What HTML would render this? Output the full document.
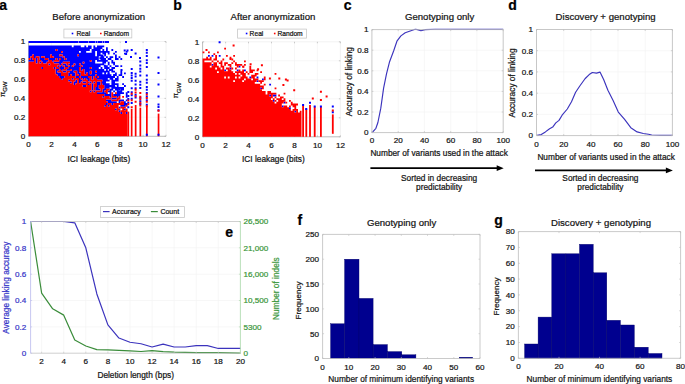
<!DOCTYPE html>
<html><head><meta charset="utf-8"><style>
html,body{margin:0;padding:0;background:#fff;width:685px;height:384px;overflow:hidden}
svg{display:block}
text{font-family:"Liberation Sans", sans-serif;stroke:currentColor;stroke-width:0.22px}
</style></head><body>
<svg width="685" height="384" viewBox="0 0 685 384">
<rect width="685" height="384" fill="#fff"/>
<line x1="51.5" y1="41.5" x2="51.5" y2="136.3" stroke="#f3f3f3" stroke-width="0.7"/>
<line x1="74.4" y1="41.5" x2="74.4" y2="136.3" stroke="#f3f3f3" stroke-width="0.7"/>
<line x1="97.3" y1="41.5" x2="97.3" y2="136.3" stroke="#f3f3f3" stroke-width="0.7"/>
<line x1="120.2" y1="41.5" x2="120.2" y2="136.3" stroke="#f3f3f3" stroke-width="0.7"/>
<line x1="143.1" y1="41.5" x2="143.1" y2="136.3" stroke="#f3f3f3" stroke-width="0.7"/>
<line x1="28.6" y1="117.3" x2="166" y2="117.3" stroke="#f3f3f3" stroke-width="0.7"/>
<line x1="28.6" y1="98.4" x2="166" y2="98.4" stroke="#f3f3f3" stroke-width="0.7"/>
<line x1="28.6" y1="79.4" x2="166" y2="79.4" stroke="#f3f3f3" stroke-width="0.7"/>
<line x1="28.6" y1="60.5" x2="166" y2="60.5" stroke="#f3f3f3" stroke-width="0.7"/>
<line x1="28.6" y1="136.3" x2="166" y2="136.3" stroke="#ababab" stroke-width="0.8"/>
<line x1="28.6" y1="41.5" x2="166" y2="41.5" stroke="#efefef" stroke-width="0.8"/>
<line x1="28.6" y1="41.5" x2="28.6" y2="136.3" stroke="#ababab" stroke-width="0.8"/>
<line x1="166" y1="41.5" x2="166" y2="136.3" stroke="#efefef" stroke-width="0.8"/>
<line x1="28.6" y1="136.3" x2="28.6" y2="134.8" stroke="#ababab" stroke-width="0.6"/>
<line x1="28.6" y1="41.5" x2="28.6" y2="43" stroke="#ababab" stroke-width="0.6"/>
<line x1="51.5" y1="136.3" x2="51.5" y2="134.8" stroke="#ababab" stroke-width="0.6"/>
<line x1="51.5" y1="41.5" x2="51.5" y2="43" stroke="#ababab" stroke-width="0.6"/>
<line x1="74.4" y1="136.3" x2="74.4" y2="134.8" stroke="#ababab" stroke-width="0.6"/>
<line x1="74.4" y1="41.5" x2="74.4" y2="43" stroke="#ababab" stroke-width="0.6"/>
<line x1="97.3" y1="136.3" x2="97.3" y2="134.8" stroke="#ababab" stroke-width="0.6"/>
<line x1="97.3" y1="41.5" x2="97.3" y2="43" stroke="#ababab" stroke-width="0.6"/>
<line x1="120.2" y1="136.3" x2="120.2" y2="134.8" stroke="#ababab" stroke-width="0.6"/>
<line x1="120.2" y1="41.5" x2="120.2" y2="43" stroke="#ababab" stroke-width="0.6"/>
<line x1="143.1" y1="136.3" x2="143.1" y2="134.8" stroke="#ababab" stroke-width="0.6"/>
<line x1="143.1" y1="41.5" x2="143.1" y2="43" stroke="#ababab" stroke-width="0.6"/>
<line x1="166" y1="136.3" x2="166" y2="134.8" stroke="#ababab" stroke-width="0.6"/>
<line x1="166" y1="41.5" x2="166" y2="43" stroke="#ababab" stroke-width="0.6"/>
<line x1="28.6" y1="136.3" x2="30.1" y2="136.3" stroke="#ababab" stroke-width="0.6"/>
<line x1="166" y1="136.3" x2="164.5" y2="136.3" stroke="#ababab" stroke-width="0.6"/>
<line x1="28.6" y1="117.3" x2="30.1" y2="117.3" stroke="#ababab" stroke-width="0.6"/>
<line x1="166" y1="117.3" x2="164.5" y2="117.3" stroke="#ababab" stroke-width="0.6"/>
<line x1="28.6" y1="98.4" x2="30.1" y2="98.4" stroke="#ababab" stroke-width="0.6"/>
<line x1="166" y1="98.4" x2="164.5" y2="98.4" stroke="#ababab" stroke-width="0.6"/>
<line x1="28.6" y1="79.4" x2="30.1" y2="79.4" stroke="#ababab" stroke-width="0.6"/>
<line x1="166" y1="79.4" x2="164.5" y2="79.4" stroke="#ababab" stroke-width="0.6"/>
<line x1="28.6" y1="60.5" x2="30.1" y2="60.5" stroke="#ababab" stroke-width="0.6"/>
<line x1="166" y1="60.5" x2="164.5" y2="60.5" stroke="#ababab" stroke-width="0.6"/>
<line x1="28.6" y1="41.5" x2="30.1" y2="41.5" stroke="#ababab" stroke-width="0.6"/>
<line x1="166" y1="41.5" x2="164.5" y2="41.5" stroke="#ababab" stroke-width="0.6"/>
<path d="M28.6 45.5H71.8V47.3H28.6zM73.6 45.5H80.8V47.3H73.6zM84.4 45.5H86.2V47.3H84.4zM88.0 45.5H91.6V47.3H88.0zM93.4 45.5H95.2V47.3H93.4zM97.0 45.5H104.2V47.3H97.0zM28.6 47.3H91.6V49.1H28.6zM93.4 47.3H102.4V49.1H93.4zM106.0 47.3H107.8V49.1H106.0zM28.6 49.1H55.6V50.9H28.6zM57.4 49.1H89.8V50.9H57.4zM91.6 49.1H100.6V50.9H91.6zM102.4 49.1H104.2V50.9H102.4zM106.0 49.1H107.8V50.9H106.0zM111.4 49.1H113.2V50.9H111.4zM28.6 50.9H61.0V52.7H28.6zM62.8 50.9H79.0V52.7H62.8zM80.8 50.9H86.2V52.7H80.8zM91.6 50.9H95.2V52.7H91.6zM97.0 50.9H109.6V52.7H97.0zM115.0 50.9H116.8V52.7H115.0zM125.8 50.9H127.6V52.7H125.8zM28.6 52.7H95.2V54.5H28.6zM97.0 52.7H100.6V54.5H97.0zM102.4 52.7H106.0V54.5H102.4zM107.8 52.7H109.6V54.5H107.8zM113.2 52.7H115.0V54.5H113.2zM124.0 52.7H125.8V54.5H124.0zM28.6 54.5H32.2V56.3H28.6zM34.0 54.5H50.2V56.3H34.0zM52.0 54.5H59.2V56.3H52.0zM62.8 54.5H77.2V56.3H62.8zM79.0 54.5H95.2V56.3H79.0zM97.0 54.5H102.4V56.3H97.0zM104.2 54.5H106.0V56.3H104.2zM115.0 54.5H116.8V56.3H115.0zM28.6 56.3H30.4V58.1H28.6zM34.0 56.3H35.8V58.1H34.0zM39.4 56.3H41.2V58.1H39.4zM44.8 56.3H50.2V58.1H44.8zM53.8 56.3H62.8V58.1H53.8zM64.6 56.3H98.8V58.1H64.6zM100.6 56.3H104.2V58.1H100.6zM106.0 56.3H107.8V58.1H106.0zM109.6 56.3H113.2V58.1H109.6zM115.0 56.3H116.8V58.1H115.0zM118.6 56.3H120.4V58.1H118.6zM30.4 58.1H32.2V59.9H30.4zM35.8 58.1H37.6V59.9H35.8zM39.4 58.1H44.8V59.9H39.4zM48.4 58.1H55.6V59.9H48.4zM57.4 58.1H59.2V59.9H57.4zM61.0 58.1H64.6V59.9H61.0zM66.4 58.1H98.8V59.9H66.4zM100.6 58.1H106.0V59.9H100.6zM107.8 58.1H111.4V59.9H107.8zM115.0 58.1H118.6V59.9H115.0zM120.4 58.1H122.2V59.9H120.4zM28.6 59.9H34.0V61.7H28.6zM35.8 59.9H37.6V61.7H35.8zM41.2 59.9H48.4V61.7H41.2zM52.0 59.9H53.8V61.7H52.0zM59.2 59.9H89.8V61.7H59.2zM91.6 59.9H95.2V61.7H91.6zM97.0 59.9H107.8V61.7H97.0zM111.4 59.9H113.2V61.7H111.4zM127.6 59.9H127.6V61.7H127.6zM35.8 61.7H37.6V63.5H35.8zM39.4 61.7H41.2V63.5H39.4zM43.0 61.7H46.6V63.5H43.0zM53.8 61.7H62.8V63.5H53.8zM70.0 61.7H82.6V63.5H70.0zM84.4 61.7H95.2V63.5H84.4zM102.4 61.7H106.0V63.5H102.4zM107.8 61.7H109.6V63.5H107.8zM111.4 61.7H115.0V63.5H111.4zM48.4 63.5H50.2V65.3H48.4zM59.2 63.5H61.0V65.3H59.2zM62.8 63.5H66.4V65.3H62.8zM68.2 63.5H73.6V65.3H68.2zM75.4 63.5H79.0V65.3H75.4zM80.8 63.5H104.2V65.3H80.8zM107.8 63.5H109.6V65.3H107.8zM113.2 63.5H115.0V65.3H113.2zM57.4 65.3H59.2V67.1H57.4zM61.0 65.3H62.8V67.1H61.0zM64.6 65.3H68.2V67.1H64.6zM70.0 65.3H71.8V67.1H70.0zM73.6 65.3H80.8V67.1H73.6zM82.6 65.3H100.6V67.1H82.6zM104.2 65.3H107.8V67.1H104.2zM109.6 65.3H111.4V67.1H109.6zM115.0 65.3H118.6V67.1H115.0zM120.4 65.3H122.2V67.1H120.4zM41.2 67.1H43.0V68.9H41.2zM53.8 67.1H55.6V68.9H53.8zM59.2 67.1H64.6V68.9H59.2zM68.2 67.1H79.0V68.9H68.2zM80.8 67.1H89.8V68.9H80.8zM91.6 67.1H98.8V68.9H91.6zM100.6 67.1H102.4V68.9H100.6zM104.2 67.1H109.6V68.9H104.2zM111.4 67.1H115.0V68.9H111.4zM55.6 68.9H59.2V70.7H55.6zM61.0 68.9H62.8V70.7H61.0zM66.4 68.9H70.0V70.7H66.4zM71.8 68.9H79.0V70.7H71.8zM80.8 68.9H82.6V70.7H80.8zM84.4 68.9H104.2V70.7H84.4zM106.0 68.9H107.8V70.7H106.0zM109.6 68.9H113.2V70.7H109.6zM55.6 70.7H57.4V72.5H55.6zM62.8 70.7H66.4V72.5H62.8zM70.0 70.7H73.6V72.5H70.0zM77.2 70.7H79.0V72.5H77.2zM84.4 70.7H89.8V72.5H84.4zM91.6 70.7H95.2V72.5H91.6zM97.0 70.7H109.6V72.5H97.0zM111.4 70.7H115.0V72.5H111.4zM120.4 70.7H122.2V72.5H120.4zM55.6 72.5H61.0V74.3H55.6zM68.2 72.5H75.4V74.3H68.2zM77.2 72.5H80.8V74.3H77.2zM84.4 72.5H86.2V74.3H84.4zM88.0 72.5H89.8V74.3H88.0zM91.6 72.5H102.4V74.3H91.6zM104.2 72.5H106.0V74.3H104.2zM107.8 72.5H109.6V74.3H107.8zM115.0 72.5H116.8V74.3H115.0zM120.4 72.5H122.2V74.3H120.4zM124.0 72.5H125.8V74.3H124.0zM57.4 74.3H61.0V76.1H57.4zM68.2 74.3H70.0V76.1H68.2zM71.8 74.3H75.4V76.1H71.8zM79.0 74.3H80.8V76.1H79.0zM88.0 74.3H95.2V76.1H88.0zM97.0 74.3H111.4V76.1H97.0zM113.2 74.3H116.8V76.1H113.2zM118.6 74.3H122.2V76.1H118.6zM59.2 76.1H64.6V77.9H59.2zM75.4 76.1H79.0V77.9H75.4zM80.8 76.1H88.0V77.9H80.8zM91.6 76.1H93.4V77.9H91.6zM95.2 76.1H97.0V77.9H95.2zM98.8 76.1H115.0V77.9H98.8zM116.8 76.1H118.6V77.9H116.8zM122.2 76.1H124.0V77.9H122.2zM61.0 77.9H62.8V79.7H61.0zM71.8 77.9H73.6V79.7H71.8zM79.0 77.9H80.8V79.7H79.0zM82.6 77.9H84.4V79.7H82.6zM86.2 77.9H89.8V79.7H86.2zM91.6 77.9H93.4V79.7H91.6zM97.0 77.9H107.8V79.7H97.0zM109.6 77.9H113.2V79.7H109.6zM115.0 77.9H118.6V79.7H115.0zM68.2 79.7H70.0V81.5H68.2zM75.4 79.7H77.2V81.5H75.4zM79.0 79.7H82.6V81.5H79.0zM88.0 79.7H89.8V81.5H88.0zM102.4 79.7H109.6V81.5H102.4zM111.4 79.7H118.6V81.5H111.4zM127.6 79.7H127.6V81.5H127.6zM70.0 81.5H71.8V83.3H70.0zM73.6 81.5H77.2V83.3H73.6zM79.0 81.5H80.8V83.3H79.0zM82.6 81.5H86.2V83.3H82.6zM89.8 81.5H91.6V83.3H89.8zM93.4 81.5H95.2V83.3H93.4zM97.0 81.5H100.6V83.3H97.0zM102.4 81.5H106.0V83.3H102.4zM111.4 81.5H115.0V83.3H111.4zM73.6 83.3H75.4V85.1H73.6zM88.0 83.3H89.8V85.1H88.0zM91.6 83.3H93.4V85.1H91.6zM97.0 83.3H100.6V85.1H97.0zM102.4 83.3H109.6V85.1H102.4zM111.4 83.3H118.6V85.1H111.4zM122.2 83.3H124.0V85.1H122.2zM82.6 85.1H86.2V86.9H82.6zM91.6 85.1H93.4V86.9H91.6zM97.0 85.1H98.8V86.9H97.0zM104.2 85.1H115.0V86.9H104.2zM116.8 85.1H118.6V86.9H116.8zM124.0 85.1H125.8V86.9H124.0zM91.6 86.9H93.4V88.7H91.6zM95.2 86.9H98.8V88.7H95.2zM104.2 86.9H109.6V88.7H104.2zM111.4 86.9H124.0V88.7H111.4zM91.6 88.7H93.4V90.5H91.6zM95.2 88.7H100.6V90.5H95.2zM102.4 88.7H106.0V90.5H102.4zM109.6 88.7H113.2V90.5H109.6zM115.0 88.7H118.6V90.5H115.0zM120.4 88.7H124.0V90.5H120.4zM89.8 90.5H91.6V92.3H89.8zM93.4 90.5H95.2V92.3H93.4zM102.4 90.5H104.2V92.3H102.4zM107.8 90.5H111.4V92.3H107.8zM113.2 90.5H115.0V92.3H113.2zM116.8 90.5H122.2V92.3H116.8zM97.0 92.3H106.0V94.1H97.0zM109.6 92.3H111.4V94.1H109.6zM116.8 92.3H124.0V94.1H116.8zM125.8 92.3H127.6V94.1H125.8zM104.2 94.1H111.4V95.9H104.2zM113.2 94.1H120.4V95.9H113.2zM125.8 94.1H127.6V95.9H125.8zM102.4 95.9H104.2V97.7H102.4zM109.6 95.9H111.4V97.7H109.6zM116.8 95.9H118.6V97.7H116.8zM125.8 95.9H127.6V97.7H125.8zM111.4 97.7H116.8V99.5H111.4zM106.0 99.5H111.4V101.3H106.0zM118.6 99.5H124.0V101.3H118.6zM125.8 99.5H127.6V101.3H125.8zM107.8 101.3H116.8V103.1H107.8zM118.6 101.3H120.4V103.1H118.6zM124.0 101.3H125.8V103.1H124.0zM106.0 103.1H107.8V104.9H106.0zM111.4 103.1H113.2V104.9H111.4zM124.0 103.1H127.6V104.9H124.0zM104.2 104.9H106.0V106.7H104.2zM107.8 104.9H109.6V106.7H107.8zM120.4 104.9H125.8V106.7H120.4zM118.6 106.7H120.4V108.5H118.6zM127.6 106.7H127.6V108.5H127.6zM115.0 108.5H116.8V110.3H115.0zM124.0 108.5H125.8V110.3H124.0zM118.6 110.3H120.4V112.1H118.6zM127.6 110.3H127.6V112.1H127.6zM120.4 112.1H122.2V113.9H120.4zM125.8 112.1H127.6V113.9H125.8zM127.6 113.9H127.6V115.7H127.6zM127.6 117.5H127.6V119.3H127.6zM127.6 119.3H127.6V121.1H127.6zM127.6 121.1H127.6V122.9H127.6zM127.6 124.7H127.6V126.5H127.6zM127.6 126.5H127.6V128.3H127.6zM127.6 128.3H127.6V130.1H127.6zM127.6 130.1H127.6V131.9H127.6zM127.6 131.9H127.6V133.7H127.6zM127.6 133.7H127.6V135.5H127.6z" fill="#0000ff"/>
<path d="M55.6 49.1H57.4V50.9H55.6zM61.0 50.9H62.8V52.7H61.0zM32.2 54.5H34.0V56.3H32.2zM50.2 54.5H52.0V56.3H50.2zM59.2 54.5H62.8V56.3H59.2zM77.2 54.5H79.0V56.3H77.2zM30.4 56.3H34.0V58.1H30.4zM35.8 56.3H39.4V58.1H35.8zM41.2 56.3H44.8V58.1H41.2zM50.2 56.3H53.8V58.1H50.2zM62.8 56.3H64.6V58.1H62.8zM28.6 58.1H30.4V59.9H28.6zM32.2 58.1H35.8V59.9H32.2zM37.6 58.1H39.4V59.9H37.6zM44.8 58.1H48.4V59.9H44.8zM55.6 58.1H57.4V59.9H55.6zM59.2 58.1H61.0V59.9H59.2zM64.6 58.1H66.4V59.9H64.6zM34.0 59.9H35.8V61.7H34.0zM37.6 59.9H41.2V61.7H37.6zM48.4 59.9H52.0V61.7H48.4zM53.8 59.9H59.2V61.7H53.8zM89.8 59.9H91.6V61.7H89.8zM28.6 61.7H35.8V63.5H28.6zM37.6 61.7H39.4V63.5H37.6zM41.2 61.7H43.0V63.5H41.2zM46.6 61.7H53.8V63.5H46.6zM62.8 61.7H70.0V63.5H62.8zM82.6 61.7H84.4V63.5H82.6zM28.6 63.5H48.4V65.3H28.6zM50.2 63.5H59.2V65.3H50.2zM61.0 63.5H62.8V65.3H61.0zM66.4 63.5H68.2V65.3H66.4zM73.6 63.5H75.4V65.3H73.6zM79.0 63.5H80.8V65.3H79.0zM28.6 65.3H57.4V67.1H28.6zM59.2 65.3H61.0V67.1H59.2zM62.8 65.3H64.6V67.1H62.8zM68.2 65.3H70.0V67.1H68.2zM71.8 65.3H73.6V67.1H71.8zM80.8 65.3H82.6V67.1H80.8zM28.6 67.1H41.2V68.9H28.6zM43.0 67.1H53.8V68.9H43.0zM55.6 67.1H59.2V68.9H55.6zM64.6 67.1H68.2V68.9H64.6zM79.0 67.1H80.8V68.9H79.0zM89.8 67.1H91.6V68.9H89.8zM28.6 68.9H55.6V70.7H28.6zM59.2 68.9H61.0V70.7H59.2zM62.8 68.9H66.4V70.7H62.8zM70.0 68.9H71.8V70.7H70.0zM79.0 68.9H80.8V70.7H79.0zM82.6 68.9H84.4V70.7H82.6zM28.6 70.7H55.6V72.5H28.6zM57.4 70.7H62.8V72.5H57.4zM66.4 70.7H70.0V72.5H66.4zM73.6 70.7H77.2V72.5H73.6zM79.0 70.7H84.4V72.5H79.0zM89.8 70.7H91.6V72.5H89.8zM95.2 70.7H97.0V72.5H95.2zM28.6 72.5H55.6V74.3H28.6zM61.0 72.5H68.2V74.3H61.0zM75.4 72.5H77.2V74.3H75.4zM80.8 72.5H84.4V74.3H80.8zM86.2 72.5H88.0V74.3H86.2zM89.8 72.5H91.6V74.3H89.8zM28.6 74.3H57.4V76.1H28.6zM61.0 74.3H68.2V76.1H61.0zM70.0 74.3H71.8V76.1H70.0zM75.4 74.3H79.0V76.1H75.4zM80.8 74.3H88.0V76.1H80.8zM95.2 74.3H97.0V76.1H95.2zM28.6 76.1H59.2V77.9H28.6zM64.6 76.1H75.4V77.9H64.6zM79.0 76.1H80.8V77.9H79.0zM88.0 76.1H91.6V77.9H88.0zM93.4 76.1H95.2V77.9H93.4zM97.0 76.1H98.8V77.9H97.0zM28.6 77.9H61.0V79.7H28.6zM62.8 77.9H71.8V79.7H62.8zM73.6 77.9H79.0V79.7H73.6zM80.8 77.9H82.6V79.7H80.8zM84.4 77.9H86.2V79.7H84.4zM89.8 77.9H91.6V79.7H89.8zM93.4 77.9H97.0V79.7H93.4zM28.6 79.7H68.2V81.5H28.6zM70.0 79.7H75.4V81.5H70.0zM77.2 79.7H79.0V81.5H77.2zM82.6 79.7H88.0V81.5H82.6zM89.8 79.7H102.4V81.5H89.8zM28.6 81.5H70.0V83.3H28.6zM71.8 81.5H73.6V83.3H71.8zM77.2 81.5H79.0V83.3H77.2zM80.8 81.5H82.6V83.3H80.8zM86.2 81.5H89.8V83.3H86.2zM91.6 81.5H93.4V83.3H91.6zM95.2 81.5H97.0V83.3H95.2zM100.6 81.5H102.4V83.3H100.6zM28.6 83.3H73.6V85.1H28.6zM75.4 83.3H88.0V85.1H75.4zM89.8 83.3H91.6V85.1H89.8zM93.4 83.3H97.0V85.1H93.4zM100.6 83.3H102.4V85.1H100.6zM28.6 85.1H82.6V86.9H28.6zM86.2 85.1H91.6V86.9H86.2zM93.4 85.1H97.0V86.9H93.4zM98.8 85.1H104.2V86.9H98.8zM28.6 86.9H91.6V88.7H28.6zM93.4 86.9H95.2V88.7H93.4zM98.8 86.9H104.2V88.7H98.8zM28.6 88.7H91.6V90.5H28.6zM93.4 88.7H95.2V90.5H93.4zM100.6 88.7H102.4V90.5H100.6zM106.0 88.7H109.6V90.5H106.0zM28.6 90.5H89.8V92.3H28.6zM91.6 90.5H93.4V92.3H91.6zM95.2 90.5H102.4V92.3H95.2zM104.2 90.5H107.8V92.3H104.2zM28.6 92.3H97.0V94.1H28.6zM106.0 92.3H107.8V94.1H106.0zM111.4 92.3H113.2V94.1H111.4zM115.0 92.3H116.8V94.1H115.0zM28.6 94.1H104.2V95.9H28.6zM111.4 94.1H113.2V95.9H111.4zM28.6 95.9H102.4V97.7H28.6zM104.2 95.9H109.6V97.7H104.2zM111.4 95.9H116.8V97.7H111.4zM118.6 95.9H120.4V97.7H118.6zM122.2 95.9H124.0V97.7H122.2zM28.6 97.7H111.4V99.5H28.6zM116.8 97.7H120.4V99.5H116.8zM28.6 99.5H106.0V101.3H28.6zM111.4 99.5H118.6V101.3H111.4zM28.6 101.3H107.8V103.1H28.6zM120.4 101.3H124.0V103.1H120.4zM28.6 103.1H106.0V104.9H28.6zM107.8 103.1H111.4V104.9H107.8zM113.2 103.1H124.0V104.9H113.2zM28.6 104.9H104.2V106.7H28.6zM106.0 104.9H107.8V106.7H106.0zM109.6 104.9H118.6V106.7H109.6zM125.8 104.9H127.6V106.7H125.8zM28.6 106.7H118.6V108.5H28.6zM120.4 106.7H125.8V108.5H120.4zM28.6 108.5H115.0V110.3H28.6zM116.8 108.5H120.4V110.3H116.8zM122.2 108.5H124.0V110.3H122.2zM125.8 108.5H127.6V110.3H125.8zM28.6 110.3H118.6V112.1H28.6zM120.4 110.3H127.6V112.1H120.4zM28.6 112.1H120.4V113.9H28.6zM122.2 112.1H125.8V113.9H122.2zM28.6 113.9H127.6V115.7H28.6zM28.6 115.7H127.6V117.5H28.6zM28.6 117.5H127.6V119.3H28.6zM28.6 119.3H127.6V121.1H28.6zM28.6 121.1H127.6V122.9H28.6zM28.6 122.9H127.6V124.7H28.6zM28.6 124.7H127.6V126.5H28.6zM28.6 126.5H127.6V128.3H28.6zM28.6 128.3H127.6V130.1H28.6zM28.6 130.1H127.6V131.9H28.6zM28.6 131.9H127.6V133.7H28.6zM28.6 133.7H127.6V135.5H28.6zM28.6 135.5H127.6V136.3H28.6z" fill="#ff0000"/>
<rect x="28.6" y="41" width="49.4" height="2" fill="#0000ff"/>
<rect x="127.5" y="111.6" width="1.7" height="24.7" fill="#ff0000"/>
<rect x="130.8" y="109" width="1.7" height="27.3" fill="#ff0000"/>
<rect x="134.8" y="105" width="1.7" height="31.3" fill="#ff0000"/>
<rect x="139.5" y="107.7" width="1.7" height="28.6" fill="#ff0000"/>
<rect x="146" y="106.4" width="1.7" height="29.9" fill="#ff0000"/>
<rect x="157.7" y="113.6" width="1.7" height="22.7" fill="#ff0000"/>
<path d="M78.5 41h2.0v2.0h-2.0zM80.5 41h2.0v2.0h-2.0zM82.5 41h2.0v2.0h-2.0zM84.5 41h2.0v2.0h-2.0zM86.5 41h2.0v2.0h-2.0zM89 41h2.0v2.0h-2.0zM91 41h2.0v2.0h-2.0zM93 41h2.0v2.0h-2.0zM95.5 41h2.0v2.0h-2.0zM98 41h2.0v2.0h-2.0zM100 41h2.0v2.0h-2.0zM102.5 41h2.0v2.0h-2.0zM105 41h2.0v2.0h-2.0zM107 41h2.0v2.0h-2.0zM125 41h2.0v2.0h-2.0zM120.5 68.9h2.0v2.0h-2.0zM101.8 81.5h2.0v2.0h-2.0zM107.5 73h2.0v2.0h-2.0zM108.9 69.1h2.0v2.0h-2.0zM125.1 52.9h2.0v2.0h-2.0zM113.3 73.9h2.0v2.0h-2.0zM113.5 86.3h2.0v2.0h-2.0zM110 85.3h2.0v2.0h-2.0zM117.6 87.6h2.0v2.0h-2.0zM101.4 55.1h2.0v2.0h-2.0zM106.8 85h2.0v2.0h-2.0zM99.4 57.2h2.0v2.0h-2.0zM118.3 88.6h2.0v2.0h-2.0zM103.8 64.8h2.0v2.0h-2.0zM123.7 49.4h2.0v2.0h-2.0zM126.5 49.4h2.0v2.0h-2.0zM130.7 49h2.0v2.0h-2.0zM134.6 52.5h2.0v2.0h-2.0zM130 56h2.0v2.0h-2.0zM139 57h2.0v2.0h-2.0zM127.3 91h2.0v2.0h-2.0zM127.3 94.9h2.0v2.0h-2.0zM127.3 97.9h2.0v2.0h-2.0zM127.3 101.8h2.0v2.0h-2.0zM127.3 106.2h2.0v2.0h-2.0zM130.7 68h2.0v2.0h-2.0zM130.7 71.9h2.0v2.0h-2.0zM130.7 74.5h2.0v2.0h-2.0zM130.7 77h2.0v2.0h-2.0zM130.7 79.8h2.0v2.0h-2.0zM130.7 87.2h2.0v2.0h-2.0zM130.7 91.2h2.0v2.0h-2.0zM130.7 94.3h2.0v2.0h-2.0zM130.7 97.7h2.0v2.0h-2.0zM130.7 102.1h2.0v2.0h-2.0zM134.6 72.8h2.0v2.0h-2.0zM134.6 75.4h2.0v2.0h-2.0zM134.6 79.7h2.0v2.0h-2.0zM134.6 83.5h2.0v2.0h-2.0zM134.6 87.3h2.0v2.0h-2.0zM134.6 93.8h2.0v2.0h-2.0zM134.6 96.4h2.0v2.0h-2.0zM139.3 60.5h2.0v2.0h-2.0zM139.3 64.6h2.0v2.0h-2.0zM139.3 67.8h2.0v2.0h-2.0zM139.3 70.5h2.0v2.0h-2.0zM139.3 74.6h2.0v2.0h-2.0zM139.3 80.8h2.0v2.0h-2.0zM139.3 83.8h2.0v2.0h-2.0zM139.3 87h2.0v2.0h-2.0zM139.3 96.8h2.0v2.0h-2.0zM139.3 100.3h2.0v2.0h-2.0zM139.3 103h2.0v2.0h-2.0zM145.8 49h2.0v2.0h-2.0zM145.8 51.7h2.0v2.0h-2.0zM145.8 55h2.0v2.0h-2.0zM145.8 59.3h2.0v2.0h-2.0zM145.8 62h2.0v2.0h-2.0zM145.8 66h2.0v2.0h-2.0zM145.8 74.4h2.0v2.0h-2.0zM145.8 78.8h2.0v2.0h-2.0zM145.8 81.8h2.0v2.0h-2.0zM145.8 86h2.0v2.0h-2.0zM145.8 88.7h2.0v2.0h-2.0zM145.8 92.1h2.0v2.0h-2.0zM145.8 95.5h2.0v2.0h-2.0zM145.8 99.3h2.0v2.0h-2.0zM145.8 103.8h2.0v2.0h-2.0zM145.8 133.8h2.0v2.0h-2.0zM157.5 56.5h2.0v2.0h-2.0zM157.5 72h2.0v2.0h-2.0zM157.5 83.5h2.0v2.0h-2.0zM157.5 95.6h2.0v2.0h-2.0zM157.5 103.4h2.0v2.0h-2.0zM157.5 106h2.0v2.0h-2.0zM157.5 109.3h2.0v2.0h-2.0zM157.5 133.8h2.0v2.0h-2.0z" fill="#0000ff"/>
<path d="M127.3 99.4h2.0v2.0h-2.0zM127.3 103.3h2.0v2.0h-2.0zM130.7 92.7h2.0v2.0h-2.0zM130.7 99.2h2.0v2.0h-2.0zM130.7 106.2h2.0v2.0h-2.0zM134.6 88.8h2.0v2.0h-2.0zM134.6 91.5h2.0v2.0h-2.0zM134.6 95.3h2.0v2.0h-2.0zM134.6 100.7h2.0v2.0h-2.0zM139.3 91.9h2.0v2.0h-2.0zM139.3 95.8h2.0v2.0h-2.0zM139.3 98.3h2.0v2.0h-2.0zM139.3 101.8h2.0v2.0h-2.0zM139.3 104.5h2.0v2.0h-2.0zM145.8 93.6h2.0v2.0h-2.0zM145.8 97h2.0v2.0h-2.0zM145.8 100.8h2.0v2.0h-2.0zM145.8 105.3h2.0v2.0h-2.0zM157.5 109.8h2.0v2.0h-2.0z" fill="#ff0000"/>
<text x="28.6" y="147" font-size="8.1" text-anchor="middle" fill="#141414" color="#141414">0</text>
<text x="51.5" y="147" font-size="8.1" text-anchor="middle" fill="#141414" color="#141414">2</text>
<text x="74.4" y="147" font-size="8.1" text-anchor="middle" fill="#141414" color="#141414">4</text>
<text x="97.3" y="147" font-size="8.1" text-anchor="middle" fill="#141414" color="#141414">6</text>
<text x="120.2" y="147" font-size="8.1" text-anchor="middle" fill="#141414" color="#141414">8</text>
<text x="143.1" y="147" font-size="8.1" text-anchor="middle" fill="#141414" color="#141414">10</text>
<text x="166" y="147" font-size="8.1" text-anchor="middle" fill="#141414" color="#141414">12</text>
<text x="25.2" y="139.1" font-size="8.1" text-anchor="end" fill="#141414" color="#141414">0</text>
<text x="25.2" y="120.1" font-size="8.1" text-anchor="end" fill="#141414" color="#141414">0.2</text>
<text x="25.2" y="101.2" font-size="8.1" text-anchor="end" fill="#141414" color="#141414">0.4</text>
<text x="25.2" y="82.2" font-size="8.1" text-anchor="end" fill="#141414" color="#141414">0.6</text>
<text x="25.2" y="63.3" font-size="8.1" text-anchor="end" fill="#141414" color="#141414">0.8</text>
<text x="25.2" y="44.3" font-size="8.1" text-anchor="end" fill="#141414" color="#141414">1</text>
<line x1="225.6" y1="41.8" x2="225.6" y2="136.8" stroke="#f3f3f3" stroke-width="0.7"/>
<line x1="248.5" y1="41.8" x2="248.5" y2="136.8" stroke="#f3f3f3" stroke-width="0.7"/>
<line x1="271.5" y1="41.8" x2="271.5" y2="136.8" stroke="#f3f3f3" stroke-width="0.7"/>
<line x1="294.5" y1="41.8" x2="294.5" y2="136.8" stroke="#f3f3f3" stroke-width="0.7"/>
<line x1="317.4" y1="41.8" x2="317.4" y2="136.8" stroke="#f3f3f3" stroke-width="0.7"/>
<line x1="202.6" y1="117.8" x2="340.4" y2="117.8" stroke="#f3f3f3" stroke-width="0.7"/>
<line x1="202.6" y1="98.8" x2="340.4" y2="98.8" stroke="#f3f3f3" stroke-width="0.7"/>
<line x1="202.6" y1="79.8" x2="340.4" y2="79.8" stroke="#f3f3f3" stroke-width="0.7"/>
<line x1="202.6" y1="60.8" x2="340.4" y2="60.8" stroke="#f3f3f3" stroke-width="0.7"/>
<line x1="202.6" y1="136.8" x2="340.4" y2="136.8" stroke="#ababab" stroke-width="0.8"/>
<line x1="202.6" y1="41.8" x2="340.4" y2="41.8" stroke="#efefef" stroke-width="0.8"/>
<line x1="202.6" y1="41.8" x2="202.6" y2="136.8" stroke="#ababab" stroke-width="0.8"/>
<line x1="340.4" y1="41.8" x2="340.4" y2="136.8" stroke="#efefef" stroke-width="0.8"/>
<line x1="202.6" y1="136.8" x2="202.6" y2="135.3" stroke="#ababab" stroke-width="0.6"/>
<line x1="202.6" y1="41.8" x2="202.6" y2="43.3" stroke="#ababab" stroke-width="0.6"/>
<line x1="225.6" y1="136.8" x2="225.6" y2="135.3" stroke="#ababab" stroke-width="0.6"/>
<line x1="225.6" y1="41.8" x2="225.6" y2="43.3" stroke="#ababab" stroke-width="0.6"/>
<line x1="248.5" y1="136.8" x2="248.5" y2="135.3" stroke="#ababab" stroke-width="0.6"/>
<line x1="248.5" y1="41.8" x2="248.5" y2="43.3" stroke="#ababab" stroke-width="0.6"/>
<line x1="271.5" y1="136.8" x2="271.5" y2="135.3" stroke="#ababab" stroke-width="0.6"/>
<line x1="271.5" y1="41.8" x2="271.5" y2="43.3" stroke="#ababab" stroke-width="0.6"/>
<line x1="294.5" y1="136.8" x2="294.5" y2="135.3" stroke="#ababab" stroke-width="0.6"/>
<line x1="294.5" y1="41.8" x2="294.5" y2="43.3" stroke="#ababab" stroke-width="0.6"/>
<line x1="317.4" y1="136.8" x2="317.4" y2="135.3" stroke="#ababab" stroke-width="0.6"/>
<line x1="317.4" y1="41.8" x2="317.4" y2="43.3" stroke="#ababab" stroke-width="0.6"/>
<line x1="340.4" y1="136.8" x2="340.4" y2="135.3" stroke="#ababab" stroke-width="0.6"/>
<line x1="340.4" y1="41.8" x2="340.4" y2="43.3" stroke="#ababab" stroke-width="0.6"/>
<line x1="202.6" y1="136.8" x2="204.1" y2="136.8" stroke="#ababab" stroke-width="0.6"/>
<line x1="340.4" y1="136.8" x2="338.9" y2="136.8" stroke="#ababab" stroke-width="0.6"/>
<line x1="202.6" y1="117.8" x2="204.1" y2="117.8" stroke="#ababab" stroke-width="0.6"/>
<line x1="340.4" y1="117.8" x2="338.9" y2="117.8" stroke="#ababab" stroke-width="0.6"/>
<line x1="202.6" y1="98.8" x2="204.1" y2="98.8" stroke="#ababab" stroke-width="0.6"/>
<line x1="340.4" y1="98.8" x2="338.9" y2="98.8" stroke="#ababab" stroke-width="0.6"/>
<line x1="202.6" y1="79.8" x2="204.1" y2="79.8" stroke="#ababab" stroke-width="0.6"/>
<line x1="340.4" y1="79.8" x2="338.9" y2="79.8" stroke="#ababab" stroke-width="0.6"/>
<line x1="202.6" y1="60.8" x2="204.1" y2="60.8" stroke="#ababab" stroke-width="0.6"/>
<line x1="340.4" y1="60.8" x2="338.9" y2="60.8" stroke="#ababab" stroke-width="0.6"/>
<line x1="202.6" y1="41.8" x2="204.1" y2="41.8" stroke="#ababab" stroke-width="0.6"/>
<line x1="340.4" y1="41.8" x2="338.9" y2="41.8" stroke="#ababab" stroke-width="0.6"/>
<path d="M208.0 55.0H209.8V56.8H208.0zM211.6 55.0H213.4V56.8H211.6zM218.8 55.0H220.6V56.8H218.8zM211.6 64.0H213.4V65.8H211.6zM238.6 65.8H240.4V67.6H238.6zM229.6 67.6H231.4V69.4H229.6zM224.2 69.4H226.0V71.2H224.2zM236.8 69.4H238.6V71.2H236.8zM244.0 69.4H245.8V71.2H244.0zM249.4 76.6H251.2V78.4H249.4zM256.6 76.6H258.4V78.4H256.6zM262.0 78.4H263.8V80.2H262.0zM256.6 80.2H258.4V82.0H256.6zM269.2 83.8H271.0V85.6H269.2zM260.2 87.4H262.0V89.2H260.2zM269.2 94.6H271.0V96.4H269.2zM272.8 94.6H276.4V96.4H272.8zM272.8 100.0H274.6V101.8H272.8zM283.6 101.8H285.4V103.6H283.6zM281.8 105.4H283.6V107.2H281.8zM289.0 107.2H290.8V109.0H289.0zM294.4 110.8H296.2V112.6H294.4z" fill="#0000ff"/>
<path d="M224.2 47.8H226.0V49.6H224.2zM202.6 51.4H204.4V53.2H202.6zM208.0 51.4H209.8V53.2H208.0zM217.0 51.4H218.8V53.2H217.0zM213.4 53.2H215.2V55.0H213.4zM215.2 55.0H217.0V56.8H215.2zM226.0 55.0H227.8V56.8H226.0zM233.2 55.0H235.0V56.8H233.2zM206.2 56.8H208.0V58.6H206.2zM209.8 56.8H211.6V58.6H209.8zM215.2 56.8H217.0V58.6H215.2zM229.6 56.8H231.4V58.6H229.6zM202.6 58.6H211.6V60.4H202.6zM213.4 58.6H217.0V60.4H213.4zM222.4 58.6H224.2V60.4H222.4zM231.4 58.6H233.2V60.4H231.4zM202.6 60.4H204.4V62.2H202.6zM211.6 60.4H213.4V62.2H211.6zM217.0 60.4H218.8V62.2H217.0zM220.6 60.4H222.4V62.2H220.6zM233.2 60.4H235.0V62.2H233.2zM244.0 60.4H245.8V62.2H244.0zM202.6 62.2H211.6V64.0H202.6zM213.4 62.2H217.0V64.0H213.4zM218.8 62.2H222.4V64.0H218.8zM224.2 62.2H227.8V64.0H224.2zM231.4 62.2H233.2V64.0H231.4zM235.0 62.2H236.8V64.0H235.0zM202.6 64.0H211.6V65.8H202.6zM213.4 64.0H217.0V65.8H213.4zM220.6 64.0H222.4V65.8H220.6zM224.2 64.0H226.0V65.8H224.2zM227.8 64.0H231.4V65.8H227.8zM235.0 64.0H242.2V65.8H235.0zM244.0 64.0H245.8V65.8H244.0zM202.6 65.8H209.8V67.6H202.6zM211.6 65.8H218.8V67.6H211.6zM220.6 65.8H224.2V67.6H220.6zM229.6 65.8H231.4V67.6H229.6zM236.8 65.8H238.6V67.6H236.8zM242.2 65.8H244.0V67.6H242.2zM249.4 65.8H251.2V67.6H249.4zM202.6 67.6H215.2V69.4H202.6zM217.0 67.6H220.6V69.4H217.0zM222.4 67.6H224.2V69.4H222.4zM226.0 67.6H229.6V69.4H226.0zM231.4 67.6H233.2V69.4H231.4zM235.0 67.6H236.8V69.4H235.0zM249.4 67.6H251.2V69.4H249.4zM202.6 69.4H224.2V71.2H202.6zM227.8 69.4H231.4V71.2H227.8zM238.6 69.4H240.4V71.2H238.6zM242.2 69.4H244.0V71.2H242.2zM249.4 69.4H254.8V71.2H249.4zM256.6 69.4H258.4V71.2H256.6zM202.6 71.2H217.0V73.0H202.6zM218.8 71.2H233.2V73.0H218.8zM235.0 71.2H244.0V73.0H235.0zM245.8 71.2H247.6V73.0H245.8zM249.4 71.2H253.0V73.0H249.4zM260.2 71.2H262.0V73.0H260.2zM202.6 73.0H235.0V74.8H202.6zM236.8 73.0H238.6V74.8H236.8zM240.4 73.0H245.8V74.8H240.4zM247.6 73.0H249.4V74.8H247.6zM254.8 73.0H258.4V74.8H254.8zM274.6 73.0H276.4V74.8H274.6zM202.6 74.8H240.4V76.6H202.6zM242.2 74.8H245.8V76.6H242.2zM251.2 74.8H256.6V76.6H251.2zM202.6 76.6H224.2V78.4H202.6zM226.0 76.6H227.8V78.4H226.0zM229.6 76.6H235.0V78.4H229.6zM236.8 76.6H238.6V78.4H236.8zM240.4 76.6H247.6V78.4H240.4zM251.2 76.6H254.8V78.4H251.2zM263.8 76.6H265.6V78.4H263.8zM202.6 78.4H244.0V80.2H202.6zM245.8 78.4H251.2V80.2H245.8zM253.0 78.4H258.4V80.2H253.0zM263.8 78.4H265.6V80.2H263.8zM202.6 80.2H233.2V82.0H202.6zM235.0 80.2H242.2V82.0H235.0zM244.0 80.2H256.6V82.0H244.0zM258.4 80.2H263.8V82.0H258.4zM202.6 82.0H254.8V83.8H202.6zM260.2 82.0H262.0V83.8H260.2zM202.6 83.8H260.2V85.6H202.6zM263.8 83.8H265.6V85.6H263.8zM202.6 85.6H263.8V87.4H202.6zM202.6 87.4H260.2V89.2H202.6zM262.0 87.4H263.8V89.2H262.0zM274.6 87.4H276.4V89.2H274.6zM202.6 89.2H262.0V91.0H202.6zM202.6 91.0H265.6V92.8H202.6zM267.4 91.0H271.0V92.8H267.4zM202.6 92.8H265.6V94.6H202.6zM267.4 92.8H276.4V94.6H267.4zM283.6 92.8H285.4V94.6H283.6zM202.6 94.6H269.2V96.4H202.6zM271.0 94.6H272.8V96.4H271.0zM278.2 94.6H280.0V96.4H278.2zM202.6 96.4H272.8V98.2H202.6zM274.6 96.4H276.4V98.2H274.6zM280.0 96.4H283.6V98.2H280.0zM202.6 98.2H271.0V100.0H202.6zM272.8 98.2H274.6V100.0H272.8zM276.4 98.2H281.8V100.0H276.4zM283.6 98.2H285.4V100.0H283.6zM202.6 100.0H272.8V101.8H202.6zM274.6 100.0H276.4V101.8H274.6zM278.2 100.0H285.4V101.8H278.2zM289.0 100.0H290.8V101.8H289.0zM202.6 101.8H274.6V103.6H202.6zM276.4 101.8H283.6V103.6H276.4zM285.4 101.8H287.2V103.6H285.4zM290.8 101.8H292.6V103.6H290.8zM202.6 103.6H281.8V105.4H202.6zM290.8 103.6H298.0V105.4H290.8zM202.6 105.4H281.8V107.2H202.6zM283.6 105.4H287.2V107.2H283.6zM289.0 105.4H290.8V107.2H289.0zM292.6 105.4H296.2V107.2H292.6zM202.6 107.2H289.0V109.0H202.6zM294.4 107.2H296.2V109.0H294.4zM202.6 109.0H290.8V110.8H202.6zM292.6 109.0H298.0V110.8H292.6zM202.6 110.8H294.4V112.6H202.6zM296.2 110.8H298.0V112.6H296.2zM299.8 110.8H301.5V112.6H299.8zM202.6 112.6H301.5V114.4H202.6zM202.6 114.4H301.5V116.2H202.6zM202.6 116.2H301.5V118.0H202.6zM202.6 118.0H301.5V119.8H202.6zM202.6 119.8H301.5V121.6H202.6zM202.6 121.6H301.5V123.4H202.6zM202.6 123.4H301.5V125.2H202.6zM202.6 125.2H301.5V127.0H202.6zM202.6 127.0H301.5V128.8H202.6zM202.6 128.8H301.5V130.6H202.6zM202.6 130.6H301.5V132.4H202.6zM202.6 132.4H301.5V134.2H202.6zM202.6 134.2H301.5V136.0H202.6zM202.6 136.0H301.5V136.8H202.6z" fill="#ff0000"/>
<rect x="302.2" y="105" width="1.8" height="31.8" fill="#ff0000"/>
<rect x="305.4" y="108.9" width="1.8" height="27.9" fill="#ff0000"/>
<rect x="309.1" y="105" width="1.8" height="31.8" fill="#ff0000"/>
<rect x="313.8" y="106.6" width="1.8" height="30.2" fill="#ff0000"/>
<rect x="320" y="106.6" width="1.8" height="30.2" fill="#ff0000"/>
<rect x="331.9" y="114.4" width="1.8" height="19.4" fill="#ff0000"/>
<path d="M218.6 41.2h2.0v2.0h-2.0zM302.1 104h2.0v2.0h-2.0zM305.2 107.9h2.0v2.0h-2.0zM309 101.7h2.0v2.0h-2.0zM313.7 105.6h2.0v2.0h-2.0zM319.9 105.6h2.0v2.0h-2.0zM331.8 105.6h2.0v2.0h-2.0zM331.8 111.3h2.0v2.0h-2.0z" fill="#0000ff"/>
<path d="M205.5 49.1h2.0v2.0h-2.0zM242.4 65.7h2.0v2.0h-2.0zM284.9 78.5h2.0v2.0h-2.0zM257.1 68.2h2.0v2.0h-2.0zM260.9 64.2h2.0v2.0h-2.0zM278.3 77.5h2.0v2.0h-2.0zM229.5 57.9h2.0v2.0h-2.0zM249.6 63.3h2.0v2.0h-2.0zM268.9 77.6h2.0v2.0h-2.0zM325.6 95.6h2.0v2.0h-2.0zM286.6 79.4h2.0v2.0h-2.0zM293.2 89.3h2.0v2.0h-2.0zM311.8 97.5h2.0v2.0h-2.0zM232.6 44.5h2.0v2.0h-2.0zM282.4 84h2.0v2.0h-2.0zM319.9 90.7h2.0v2.0h-2.0zM319.9 99h2.0v2.0h-2.0zM331.8 109.5h2.0v2.0h-2.0z" fill="#ff0000"/>
<text x="202.6" y="147.5" font-size="8.1" text-anchor="middle" fill="#141414" color="#141414">0</text>
<text x="225.6" y="147.5" font-size="8.1" text-anchor="middle" fill="#141414" color="#141414">2</text>
<text x="248.5" y="147.5" font-size="8.1" text-anchor="middle" fill="#141414" color="#141414">4</text>
<text x="271.5" y="147.5" font-size="8.1" text-anchor="middle" fill="#141414" color="#141414">6</text>
<text x="294.5" y="147.5" font-size="8.1" text-anchor="middle" fill="#141414" color="#141414">8</text>
<text x="317.4" y="147.5" font-size="8.1" text-anchor="middle" fill="#141414" color="#141414">10</text>
<text x="340.4" y="147.5" font-size="8.1" text-anchor="middle" fill="#141414" color="#141414">12</text>
<text x="199.2" y="139.6" font-size="8.1" text-anchor="end" fill="#141414" color="#141414">0</text>
<text x="199.2" y="120.6" font-size="8.1" text-anchor="end" fill="#141414" color="#141414">0.2</text>
<text x="199.2" y="101.6" font-size="8.1" text-anchor="end" fill="#141414" color="#141414">0.4</text>
<text x="199.2" y="82.6" font-size="8.1" text-anchor="end" fill="#141414" color="#141414">0.6</text>
<text x="199.2" y="63.6" font-size="8.1" text-anchor="end" fill="#141414" color="#141414">0.8</text>
<text x="199.2" y="44.6" font-size="8.1" text-anchor="end" fill="#141414" color="#141414">1</text>
<text x="98.7" y="20" font-size="9.6" text-anchor="middle" fill="#141414" color="#141414">Before anonymization</text>
<text x="273" y="20.2" font-size="9.6" text-anchor="middle" fill="#141414" color="#141414">After anonymization</text>
<text x="98.9" y="162.3" font-size="8.3" text-anchor="middle" fill="#141414" color="#141414">ICI leakage (bits)</text>
<text x="273.4" y="161.9" font-size="8.3" text-anchor="middle" fill="#141414" color="#141414">ICI leakage (bits)</text>
<rect x="63.9" y="29.1" width="67.9" height="8.8" fill="#fff" stroke="#c8c8c8" stroke-width="0.8"/>
<path d="M71.7 32.7h1.6v1.6h-1.6z" fill="#0000ff"/>
<path d="M100 32.7h1.6v1.6h-1.6z" fill="#ff0000"/>
<text x="76.4" y="36" font-size="6.7" text-anchor="start" fill="#141414" color="#141414">Real</text>
<text x="103.7" y="36" font-size="6.7" text-anchor="start" fill="#141414" color="#141414">Random</text>
<rect x="237.6" y="29.1" width="68.9" height="9" fill="#fff" stroke="#c8c8c8" stroke-width="0.8"/>
<path d="M245.8 32.7h1.6v1.6h-1.6z" fill="#0000ff"/>
<path d="M273.9 32.7h1.6v1.6h-1.6z" fill="#ff0000"/>
<text x="249.6" y="36" font-size="6.7" text-anchor="start" fill="#141414" color="#141414">Real</text>
<text x="277.4" y="36" font-size="6.7" text-anchor="start" fill="#141414" color="#141414">Random</text>
<text x="4.6" y="89.3" font-size="7.6" fill="#141414" color="#141414" transform="rotate(-90 4.6 89.3)" text-anchor="middle">π<tspan font-size="6" dy="2.5">GW</tspan></text>
<text x="178.2" y="90.4" font-size="7.6" fill="#141414" color="#141414" transform="rotate(-90 178.2 90.4)" text-anchor="middle">π<tspan font-size="6" dy="2.5">GW</tspan></text>
<text x="-0.8" y="9.9" font-size="14" text-anchor="start" fill="#000" color="#000" font-weight="bold">a</text>
<text x="173.2" y="9.9" font-size="14" text-anchor="start" fill="#000" color="#000" font-weight="bold">b</text>
<text x="343.8" y="9.9" font-size="14" text-anchor="start" fill="#000" color="#000" font-weight="bold">c</text>
<text x="508.3" y="9.9" font-size="14" text-anchor="start" fill="#000" color="#000" font-weight="bold">d</text>
<text x="225.2" y="237" font-size="14" text-anchor="start" fill="#000" color="#000" font-weight="bold">e</text>
<text x="297.5" y="225" font-size="14" text-anchor="start" fill="#000" color="#000" font-weight="bold">f</text>
<text x="494.2" y="224.6" font-size="14" text-anchor="start" fill="#000" color="#000" font-weight="bold">g</text>
<line x1="398.2" y1="29.6" x2="398.2" y2="132.6" stroke="#f3f3f3" stroke-width="0.7"/>
<line x1="424.4" y1="29.6" x2="424.4" y2="132.6" stroke="#f3f3f3" stroke-width="0.7"/>
<line x1="450.7" y1="29.6" x2="450.7" y2="132.6" stroke="#f3f3f3" stroke-width="0.7"/>
<line x1="476.9" y1="29.6" x2="476.9" y2="132.6" stroke="#f3f3f3" stroke-width="0.7"/>
<line x1="371.9" y1="112" x2="503.2" y2="112" stroke="#f3f3f3" stroke-width="0.7"/>
<line x1="371.9" y1="91.4" x2="503.2" y2="91.4" stroke="#f3f3f3" stroke-width="0.7"/>
<line x1="371.9" y1="70.8" x2="503.2" y2="70.8" stroke="#f3f3f3" stroke-width="0.7"/>
<line x1="371.9" y1="50.2" x2="503.2" y2="50.2" stroke="#f3f3f3" stroke-width="0.7"/>
<polyline points="371.90,132.60 373.00,131.70 375.90,128.30 377.90,122.50 380.80,108.20 383.60,88.10 386.50,73.80 389.40,62.30 393.70,50.80 397.10,40.80 400.90,35.90 405.20,32.70 410.90,30.70 415.20,29.30 417.50,29.60 420.90,30.70 425.20,29.60 435.00,29.20 503.20,29.20" fill="none" stroke="#3b33bd" stroke-width="1.15" stroke-linejoin="round"/>
<line x1="371.9" y1="132.6" x2="503.2" y2="132.6" stroke="#b9b9b9" stroke-width="0.8"/>
<line x1="371.9" y1="29.6" x2="503.2" y2="29.6" stroke="#b9b9b9" stroke-width="0.8"/>
<line x1="371.9" y1="29.6" x2="371.9" y2="132.6" stroke="#b9b9b9" stroke-width="0.8"/>
<line x1="503.2" y1="29.6" x2="503.2" y2="132.6" stroke="#b9b9b9" stroke-width="0.8"/>
<line x1="371.9" y1="132.6" x2="371.9" y2="131.1" stroke="#b9b9b9" stroke-width="0.6"/>
<line x1="371.9" y1="29.6" x2="371.9" y2="31.1" stroke="#b9b9b9" stroke-width="0.6"/>
<line x1="398.2" y1="132.6" x2="398.2" y2="131.1" stroke="#b9b9b9" stroke-width="0.6"/>
<line x1="398.2" y1="29.6" x2="398.2" y2="31.1" stroke="#b9b9b9" stroke-width="0.6"/>
<line x1="424.4" y1="132.6" x2="424.4" y2="131.1" stroke="#b9b9b9" stroke-width="0.6"/>
<line x1="424.4" y1="29.6" x2="424.4" y2="31.1" stroke="#b9b9b9" stroke-width="0.6"/>
<line x1="450.7" y1="132.6" x2="450.7" y2="131.1" stroke="#b9b9b9" stroke-width="0.6"/>
<line x1="450.7" y1="29.6" x2="450.7" y2="31.1" stroke="#b9b9b9" stroke-width="0.6"/>
<line x1="476.9" y1="132.6" x2="476.9" y2="131.1" stroke="#b9b9b9" stroke-width="0.6"/>
<line x1="476.9" y1="29.6" x2="476.9" y2="31.1" stroke="#b9b9b9" stroke-width="0.6"/>
<line x1="503.2" y1="132.6" x2="503.2" y2="131.1" stroke="#b9b9b9" stroke-width="0.6"/>
<line x1="503.2" y1="29.6" x2="503.2" y2="31.1" stroke="#b9b9b9" stroke-width="0.6"/>
<line x1="371.9" y1="132.6" x2="373.4" y2="132.6" stroke="#b9b9b9" stroke-width="0.6"/>
<line x1="503.2" y1="132.6" x2="501.7" y2="132.6" stroke="#b9b9b9" stroke-width="0.6"/>
<line x1="371.9" y1="112" x2="373.4" y2="112" stroke="#b9b9b9" stroke-width="0.6"/>
<line x1="503.2" y1="112" x2="501.7" y2="112" stroke="#b9b9b9" stroke-width="0.6"/>
<line x1="371.9" y1="91.4" x2="373.4" y2="91.4" stroke="#b9b9b9" stroke-width="0.6"/>
<line x1="503.2" y1="91.4" x2="501.7" y2="91.4" stroke="#b9b9b9" stroke-width="0.6"/>
<line x1="371.9" y1="70.8" x2="373.4" y2="70.8" stroke="#b9b9b9" stroke-width="0.6"/>
<line x1="503.2" y1="70.8" x2="501.7" y2="70.8" stroke="#b9b9b9" stroke-width="0.6"/>
<line x1="371.9" y1="50.2" x2="373.4" y2="50.2" stroke="#b9b9b9" stroke-width="0.6"/>
<line x1="503.2" y1="50.2" x2="501.7" y2="50.2" stroke="#b9b9b9" stroke-width="0.6"/>
<line x1="371.9" y1="29.6" x2="373.4" y2="29.6" stroke="#b9b9b9" stroke-width="0.6"/>
<line x1="503.2" y1="29.6" x2="501.7" y2="29.6" stroke="#b9b9b9" stroke-width="0.6"/>
<text x="371.9" y="142.5" font-size="8.1" text-anchor="middle" fill="#141414" color="#141414">0</text>
<text x="398.2" y="142.5" font-size="8.1" text-anchor="middle" fill="#141414" color="#141414">20</text>
<text x="424.4" y="142.5" font-size="8.1" text-anchor="middle" fill="#141414" color="#141414">40</text>
<text x="450.7" y="142.5" font-size="8.1" text-anchor="middle" fill="#141414" color="#141414">60</text>
<text x="476.9" y="142.5" font-size="8.1" text-anchor="middle" fill="#141414" color="#141414">80</text>
<text x="503.2" y="142.5" font-size="8.1" text-anchor="middle" fill="#141414" color="#141414">100</text>
<text x="368.5" y="135.4" font-size="8.1" text-anchor="end" fill="#141414" color="#141414">0</text>
<text x="368.5" y="114.8" font-size="8.1" text-anchor="end" fill="#141414" color="#141414">0.2</text>
<text x="368.5" y="94.2" font-size="8.1" text-anchor="end" fill="#141414" color="#141414">0.4</text>
<text x="368.5" y="73.6" font-size="8.1" text-anchor="end" fill="#141414" color="#141414">0.6</text>
<text x="368.5" y="53" font-size="8.1" text-anchor="end" fill="#141414" color="#141414">0.8</text>
<text x="368.5" y="32.4" font-size="8.1" text-anchor="end" fill="#141414" color="#141414">1</text>
<text x="439.6" y="19.5" font-size="9.6" text-anchor="middle" fill="#141414" color="#141414">Genotyping only</text>
<text x="439.1" y="155.6" font-size="8.3" text-anchor="middle" fill="#141414" color="#141414">Number of variants used in the attack</text>
<line x1="370.4" y1="168.2" x2="498.2" y2="168.2" stroke="#000" stroke-width="1.7"/>
<polygon points="496.7,165.3 503.7,168.2 496.7,171.1" fill="#000"/>
<text x="439.1" y="181.2" font-size="8.3" text-anchor="middle" fill="#141414" color="#141414">Sorted in decreasing</text>
<text x="439.1" y="190.2" font-size="8.3" text-anchor="middle" fill="#141414" color="#141414">predictability</text>
<text x="351.6" y="81.6" font-size="8.3" text-anchor="middle" fill="#141414" color="#141414" transform="rotate(-90 351.6 81.6)">Accuracy of linking</text>
<line x1="563.7" y1="29.5" x2="563.7" y2="135.6" stroke="#f3f3f3" stroke-width="0.7"/>
<line x1="590.9" y1="29.5" x2="590.9" y2="135.6" stroke="#f3f3f3" stroke-width="0.7"/>
<line x1="618" y1="29.5" x2="618" y2="135.6" stroke="#f3f3f3" stroke-width="0.7"/>
<line x1="645.2" y1="29.5" x2="645.2" y2="135.6" stroke="#f3f3f3" stroke-width="0.7"/>
<line x1="536.5" y1="114.4" x2="672.4" y2="114.4" stroke="#f3f3f3" stroke-width="0.7"/>
<line x1="536.5" y1="93.2" x2="672.4" y2="93.2" stroke="#f3f3f3" stroke-width="0.7"/>
<line x1="536.5" y1="71.9" x2="672.4" y2="71.9" stroke="#f3f3f3" stroke-width="0.7"/>
<line x1="536.5" y1="50.7" x2="672.4" y2="50.7" stroke="#f3f3f3" stroke-width="0.7"/>
<polyline points="537.10,135.40 541.25,134.60 545.40,131.90 549.60,128.75 552.70,127.10 555.80,122.90 559.00,120.40 562.10,115.20 567.30,109.00 571.50,101.70 575.60,92.30 579.80,86.00 585.00,78.75 589.20,74.60 592.30,72.50 596.50,73.10 600.00,72.10 603.75,79.80 607.90,90.20 613.10,100.60 618.30,112.10 624.60,119.40 630.80,127.70 637.10,131.90 643.30,133.50 648.50,134.20 651.70,135.00 660.00,135.40 672.40,135.40" fill="none" stroke="#3b33bd" stroke-width="1.15" stroke-linejoin="round"/>
<line x1="536.5" y1="135.6" x2="672.4" y2="135.6" stroke="#b9b9b9" stroke-width="0.8"/>
<line x1="536.5" y1="29.5" x2="672.4" y2="29.5" stroke="#b9b9b9" stroke-width="0.8"/>
<line x1="536.5" y1="29.5" x2="536.5" y2="135.6" stroke="#b9b9b9" stroke-width="0.8"/>
<line x1="672.4" y1="29.5" x2="672.4" y2="135.6" stroke="#b9b9b9" stroke-width="0.8"/>
<line x1="536.5" y1="135.6" x2="536.5" y2="134.1" stroke="#b9b9b9" stroke-width="0.6"/>
<line x1="536.5" y1="29.5" x2="536.5" y2="31" stroke="#b9b9b9" stroke-width="0.6"/>
<line x1="563.7" y1="135.6" x2="563.7" y2="134.1" stroke="#b9b9b9" stroke-width="0.6"/>
<line x1="563.7" y1="29.5" x2="563.7" y2="31" stroke="#b9b9b9" stroke-width="0.6"/>
<line x1="590.9" y1="135.6" x2="590.9" y2="134.1" stroke="#b9b9b9" stroke-width="0.6"/>
<line x1="590.9" y1="29.5" x2="590.9" y2="31" stroke="#b9b9b9" stroke-width="0.6"/>
<line x1="618" y1="135.6" x2="618" y2="134.1" stroke="#b9b9b9" stroke-width="0.6"/>
<line x1="618" y1="29.5" x2="618" y2="31" stroke="#b9b9b9" stroke-width="0.6"/>
<line x1="645.2" y1="135.6" x2="645.2" y2="134.1" stroke="#b9b9b9" stroke-width="0.6"/>
<line x1="645.2" y1="29.5" x2="645.2" y2="31" stroke="#b9b9b9" stroke-width="0.6"/>
<line x1="672.4" y1="135.6" x2="672.4" y2="134.1" stroke="#b9b9b9" stroke-width="0.6"/>
<line x1="672.4" y1="29.5" x2="672.4" y2="31" stroke="#b9b9b9" stroke-width="0.6"/>
<line x1="536.5" y1="135.6" x2="538" y2="135.6" stroke="#b9b9b9" stroke-width="0.6"/>
<line x1="672.4" y1="135.6" x2="670.9" y2="135.6" stroke="#b9b9b9" stroke-width="0.6"/>
<line x1="536.5" y1="114.4" x2="538" y2="114.4" stroke="#b9b9b9" stroke-width="0.6"/>
<line x1="672.4" y1="114.4" x2="670.9" y2="114.4" stroke="#b9b9b9" stroke-width="0.6"/>
<line x1="536.5" y1="93.2" x2="538" y2="93.2" stroke="#b9b9b9" stroke-width="0.6"/>
<line x1="672.4" y1="93.2" x2="670.9" y2="93.2" stroke="#b9b9b9" stroke-width="0.6"/>
<line x1="536.5" y1="71.9" x2="538" y2="71.9" stroke="#b9b9b9" stroke-width="0.6"/>
<line x1="672.4" y1="71.9" x2="670.9" y2="71.9" stroke="#b9b9b9" stroke-width="0.6"/>
<line x1="536.5" y1="50.7" x2="538" y2="50.7" stroke="#b9b9b9" stroke-width="0.6"/>
<line x1="672.4" y1="50.7" x2="670.9" y2="50.7" stroke="#b9b9b9" stroke-width="0.6"/>
<line x1="536.5" y1="29.5" x2="538" y2="29.5" stroke="#b9b9b9" stroke-width="0.6"/>
<line x1="672.4" y1="29.5" x2="670.9" y2="29.5" stroke="#b9b9b9" stroke-width="0.6"/>
<text x="536.5" y="146.5" font-size="8.1" text-anchor="middle" fill="#141414" color="#141414">0</text>
<text x="563.7" y="146.5" font-size="8.1" text-anchor="middle" fill="#141414" color="#141414">20</text>
<text x="590.9" y="146.5" font-size="8.1" text-anchor="middle" fill="#141414" color="#141414">40</text>
<text x="618" y="146.5" font-size="8.1" text-anchor="middle" fill="#141414" color="#141414">60</text>
<text x="645.2" y="146.5" font-size="8.1" text-anchor="middle" fill="#141414" color="#141414">80</text>
<text x="672.4" y="146.5" font-size="8.1" text-anchor="middle" fill="#141414" color="#141414">100</text>
<text x="533.1" y="138.4" font-size="8.1" text-anchor="end" fill="#141414" color="#141414">0</text>
<text x="533.1" y="117.2" font-size="8.1" text-anchor="end" fill="#141414" color="#141414">0.2</text>
<text x="533.1" y="96" font-size="8.1" text-anchor="end" fill="#141414" color="#141414">0.4</text>
<text x="533.1" y="74.7" font-size="8.1" text-anchor="end" fill="#141414" color="#141414">0.6</text>
<text x="533.1" y="53.5" font-size="8.1" text-anchor="end" fill="#141414" color="#141414">0.8</text>
<text x="533.1" y="32.3" font-size="8.1" text-anchor="end" fill="#141414" color="#141414">1</text>
<text x="605.6" y="19.5" font-size="9.6" text-anchor="middle" fill="#141414" color="#141414">Discovery + genotyping</text>
<text x="606.1" y="159.7" font-size="8.3" text-anchor="middle" fill="#141414" color="#141414">Number of variants used in the attack</text>
<line x1="535" y1="170.4" x2="667.4" y2="170.4" stroke="#000" stroke-width="1.7"/>
<polygon points="665.9,167.5 672.9,170.4 665.9,173.3" fill="#000"/>
<text x="600.4" y="181.2" font-size="8.3" text-anchor="middle" fill="#141414" color="#141414">Sorted in decreasing</text>
<text x="600.4" y="190.2" font-size="8.3" text-anchor="middle" fill="#141414" color="#141414">predictability</text>
<text x="514.7" y="83" font-size="8.3" text-anchor="middle" fill="#141414" color="#141414" transform="rotate(-90 514.7 83)">Accuracy of linking</text>
<line x1="41.6" y1="221.5" x2="41.6" y2="353.2" stroke="#f3f3f3" stroke-width="0.7"/>
<line x1="63.7" y1="221.5" x2="63.7" y2="353.2" stroke="#f3f3f3" stroke-width="0.7"/>
<line x1="85.8" y1="221.5" x2="85.8" y2="353.2" stroke="#f3f3f3" stroke-width="0.7"/>
<line x1="107.9" y1="221.5" x2="107.9" y2="353.2" stroke="#f3f3f3" stroke-width="0.7"/>
<line x1="130" y1="221.5" x2="130" y2="353.2" stroke="#f3f3f3" stroke-width="0.7"/>
<line x1="152.1" y1="221.5" x2="152.1" y2="353.2" stroke="#f3f3f3" stroke-width="0.7"/>
<line x1="174.1" y1="221.5" x2="174.1" y2="353.2" stroke="#f3f3f3" stroke-width="0.7"/>
<line x1="196.2" y1="221.5" x2="196.2" y2="353.2" stroke="#f3f3f3" stroke-width="0.7"/>
<line x1="218.3" y1="221.5" x2="218.3" y2="353.2" stroke="#f3f3f3" stroke-width="0.7"/>
<line x1="30.6" y1="326.9" x2="240.4" y2="326.9" stroke="#f3f3f3" stroke-width="0.7"/>
<line x1="30.6" y1="300.5" x2="240.4" y2="300.5" stroke="#f3f3f3" stroke-width="0.7"/>
<line x1="30.6" y1="274.2" x2="240.4" y2="274.2" stroke="#f3f3f3" stroke-width="0.7"/>
<line x1="30.6" y1="247.8" x2="240.4" y2="247.8" stroke="#f3f3f3" stroke-width="0.7"/>
<polyline points="30.60,221.50 41.64,293.14 52.68,308.82 63.73,315.14 74.77,340.03 85.81,345.96 96.85,349.64 107.89,349.91 118.94,350.30 129.98,350.83 141.02,351.49 152.06,350.57 163.11,351.62 174.15,352.15 185.19,352.28 196.23,352.54 207.27,352.67 218.32,352.67 229.36,352.94 240.40,353.20" fill="none" stroke="#3a8c3a" stroke-width="1.2" stroke-linejoin="round"/>
<polyline points="30.60,221.50 41.64,221.50 52.68,221.50 63.73,221.50 74.77,222.82 85.81,247.84 96.85,293.94 107.89,324.88 118.94,338.05 129.98,342.27 141.02,343.72 152.06,347.01 163.11,344.11 174.15,347.01 185.19,347.01 196.23,345.56 207.27,345.56 218.32,348.46 229.36,348.46 240.40,348.46" fill="none" stroke="#3b33bd" stroke-width="1.2" stroke-linejoin="round"/>
<line x1="30.6" y1="353.2" x2="240.4" y2="353.2" stroke="#c4c4c4" stroke-width="0.8"/>
<line x1="30.6" y1="221.5" x2="240.4" y2="221.5" stroke="#c4c4c4" stroke-width="0.8"/>
<line x1="30.6" y1="221.5" x2="30.6" y2="353.2" stroke="#b8b8ec" stroke-width="0.8"/>
<line x1="240.4" y1="221.5" x2="240.4" y2="353.2" stroke="#a8d8a8" stroke-width="0.8"/>
<line x1="41.6" y1="353.2" x2="41.6" y2="351.7" stroke="#c4c4c4" stroke-width="0.6"/>
<line x1="41.6" y1="221.5" x2="41.6" y2="223" stroke="#c4c4c4" stroke-width="0.6"/>
<line x1="63.7" y1="353.2" x2="63.7" y2="351.7" stroke="#c4c4c4" stroke-width="0.6"/>
<line x1="63.7" y1="221.5" x2="63.7" y2="223" stroke="#c4c4c4" stroke-width="0.6"/>
<line x1="85.8" y1="353.2" x2="85.8" y2="351.7" stroke="#c4c4c4" stroke-width="0.6"/>
<line x1="85.8" y1="221.5" x2="85.8" y2="223" stroke="#c4c4c4" stroke-width="0.6"/>
<line x1="107.9" y1="353.2" x2="107.9" y2="351.7" stroke="#c4c4c4" stroke-width="0.6"/>
<line x1="107.9" y1="221.5" x2="107.9" y2="223" stroke="#c4c4c4" stroke-width="0.6"/>
<line x1="130" y1="353.2" x2="130" y2="351.7" stroke="#c4c4c4" stroke-width="0.6"/>
<line x1="130" y1="221.5" x2="130" y2="223" stroke="#c4c4c4" stroke-width="0.6"/>
<line x1="152.1" y1="353.2" x2="152.1" y2="351.7" stroke="#c4c4c4" stroke-width="0.6"/>
<line x1="152.1" y1="221.5" x2="152.1" y2="223" stroke="#c4c4c4" stroke-width="0.6"/>
<line x1="174.1" y1="353.2" x2="174.1" y2="351.7" stroke="#c4c4c4" stroke-width="0.6"/>
<line x1="174.1" y1="221.5" x2="174.1" y2="223" stroke="#c4c4c4" stroke-width="0.6"/>
<line x1="196.2" y1="353.2" x2="196.2" y2="351.7" stroke="#c4c4c4" stroke-width="0.6"/>
<line x1="196.2" y1="221.5" x2="196.2" y2="223" stroke="#c4c4c4" stroke-width="0.6"/>
<line x1="218.3" y1="353.2" x2="218.3" y2="351.7" stroke="#c4c4c4" stroke-width="0.6"/>
<line x1="218.3" y1="221.5" x2="218.3" y2="223" stroke="#c4c4c4" stroke-width="0.6"/>
<line x1="240.4" y1="353.2" x2="240.4" y2="351.7" stroke="#c4c4c4" stroke-width="0.6"/>
<line x1="240.4" y1="221.5" x2="240.4" y2="223" stroke="#c4c4c4" stroke-width="0.6"/>
<line x1="30.6" y1="353.2" x2="32.1" y2="353.2" stroke="#b8b8ec" stroke-width="0.6"/>
<line x1="240.4" y1="353.2" x2="238.9" y2="353.2" stroke="#a8d8a8" stroke-width="0.6"/>
<line x1="30.6" y1="326.9" x2="32.1" y2="326.9" stroke="#b8b8ec" stroke-width="0.6"/>
<line x1="240.4" y1="326.9" x2="238.9" y2="326.9" stroke="#a8d8a8" stroke-width="0.6"/>
<line x1="30.6" y1="300.5" x2="32.1" y2="300.5" stroke="#b8b8ec" stroke-width="0.6"/>
<line x1="240.4" y1="300.5" x2="238.9" y2="300.5" stroke="#a8d8a8" stroke-width="0.6"/>
<line x1="30.6" y1="274.2" x2="32.1" y2="274.2" stroke="#b8b8ec" stroke-width="0.6"/>
<line x1="240.4" y1="274.2" x2="238.9" y2="274.2" stroke="#a8d8a8" stroke-width="0.6"/>
<line x1="30.6" y1="247.8" x2="32.1" y2="247.8" stroke="#b8b8ec" stroke-width="0.6"/>
<line x1="240.4" y1="247.8" x2="238.9" y2="247.8" stroke="#a8d8a8" stroke-width="0.6"/>
<line x1="30.6" y1="221.5" x2="32.1" y2="221.5" stroke="#b8b8ec" stroke-width="0.6"/>
<line x1="240.4" y1="221.5" x2="238.9" y2="221.5" stroke="#a8d8a8" stroke-width="0.6"/>
<text x="41.6" y="364.4" font-size="8.1" text-anchor="middle" fill="#141414" color="#141414">2</text>
<text x="63.7" y="364.4" font-size="8.1" text-anchor="middle" fill="#141414" color="#141414">4</text>
<text x="85.8" y="364.4" font-size="8.1" text-anchor="middle" fill="#141414" color="#141414">6</text>
<text x="107.9" y="364.4" font-size="8.1" text-anchor="middle" fill="#141414" color="#141414">8</text>
<text x="130" y="364.4" font-size="8.1" text-anchor="middle" fill="#141414" color="#141414">10</text>
<text x="152.1" y="364.4" font-size="8.1" text-anchor="middle" fill="#141414" color="#141414">12</text>
<text x="174.1" y="364.4" font-size="8.1" text-anchor="middle" fill="#141414" color="#141414">14</text>
<text x="196.2" y="364.4" font-size="8.1" text-anchor="middle" fill="#141414" color="#141414">16</text>
<text x="218.3" y="364.4" font-size="8.1" text-anchor="middle" fill="#141414" color="#141414">18</text>
<text x="240.4" y="364.4" font-size="8.1" text-anchor="middle" fill="#141414" color="#141414">20</text>
<text x="26.2" y="356" font-size="8.1" text-anchor="end" fill="#3535c8" color="#3535c8">0</text>
<text x="26.2" y="329.7" font-size="8.1" text-anchor="end" fill="#3535c8" color="#3535c8">0.2</text>
<text x="26.2" y="303.3" font-size="8.1" text-anchor="end" fill="#3535c8" color="#3535c8">0.4</text>
<text x="26.2" y="277" font-size="8.1" text-anchor="end" fill="#3535c8" color="#3535c8">0.6</text>
<text x="26.2" y="250.6" font-size="8.1" text-anchor="end" fill="#3535c8" color="#3535c8">0.8</text>
<text x="26.2" y="224.3" font-size="8.1" text-anchor="end" fill="#3535c8" color="#3535c8">1</text>
<text x="243.6" y="356" font-size="8.1" text-anchor="start" fill="#3a963a" color="#3a963a">0</text>
<text x="243.6" y="329.7" font-size="8.1" text-anchor="start" fill="#3a963a" color="#3a963a">5300</text>
<text x="243.6" y="303.3" font-size="8.1" text-anchor="start" fill="#3a963a" color="#3a963a">10,500</text>
<text x="243.6" y="277" font-size="8.1" text-anchor="start" fill="#3a963a" color="#3a963a">16,000</text>
<text x="243.6" y="250.6" font-size="8.1" text-anchor="start" fill="#3a963a" color="#3a963a">21,000</text>
<text x="243.6" y="224.3" font-size="8.1" text-anchor="start" fill="#3a963a" color="#3a963a">26,500</text>
<text x="135.7" y="377.9" font-size="8.3" text-anchor="middle" fill="#141414" color="#141414">Deletion length (bps)</text>
<text x="8.7" y="287.7" font-size="8.3" text-anchor="middle" fill="#3535c8" color="#3535c8" transform="rotate(-90 8.7 287.7)">Average linking accuracy</text>
<text x="279.1" y="288.6" font-size="8.3" text-anchor="middle" fill="#3a963a" color="#3a963a" transform="rotate(-90 279.1 288.6)">Number of indels</text>
<rect x="100.4" y="206.6" width="84.1" height="10.9" fill="#fff" stroke="#c8c8c8" stroke-width="0.8"/>
<line x1="103" y1="211.6" x2="109.6" y2="211.6" stroke="#3b33bd" stroke-width="1.2"/>
<line x1="150.9" y1="211.6" x2="157.8" y2="211.6" stroke="#3a8c3a" stroke-width="1.2"/>
<text x="112" y="214.3" font-size="7" text-anchor="start" fill="#141414" color="#141414">Accuracy</text>
<text x="160.4" y="214.3" font-size="7" text-anchor="start" fill="#141414" color="#141414">Count</text>
<rect x="330.6" y="323.8" width="14" height="34.7" fill="#00008f" stroke="#000068" stroke-width="0.4"/>
<rect x="344.6" y="259.2" width="14.4" height="99.3" fill="#00008f" stroke="#000068" stroke-width="0.4"/>
<rect x="359" y="298.4" width="14.1" height="60.1" fill="#00008f" stroke="#000068" stroke-width="0.4"/>
<rect x="373.1" y="344.6" width="14.3" height="13.9" fill="#00008f" stroke="#000068" stroke-width="0.4"/>
<rect x="387.4" y="351.6" width="14.4" height="6.9" fill="#00008f" stroke="#000068" stroke-width="0.4"/>
<rect x="401.8" y="354.8" width="14.1" height="3.7" fill="#00008f" stroke="#000068" stroke-width="0.4"/>
<rect x="459.2" y="357.2" width="13.5" height="1.3" fill="#00008f" stroke="#000068" stroke-width="0.4"/>
<line x1="322.6" y1="358.5" x2="480" y2="358.5" stroke="#bdbdbd" stroke-width="0.8"/>
<line x1="322.6" y1="234.4" x2="480" y2="234.4" stroke="#bdbdbd" stroke-width="0.8"/>
<line x1="322.6" y1="234.4" x2="322.6" y2="358.5" stroke="#bdbdbd" stroke-width="0.8"/>
<line x1="480" y1="234.4" x2="480" y2="358.5" stroke="#bdbdbd" stroke-width="0.8"/>
<line x1="322.6" y1="358.5" x2="322.6" y2="357" stroke="#bdbdbd" stroke-width="0.6"/>
<line x1="322.6" y1="234.4" x2="322.6" y2="235.9" stroke="#bdbdbd" stroke-width="0.6"/>
<line x1="348.8" y1="358.5" x2="348.8" y2="357" stroke="#bdbdbd" stroke-width="0.6"/>
<line x1="348.8" y1="234.4" x2="348.8" y2="235.9" stroke="#bdbdbd" stroke-width="0.6"/>
<line x1="375.1" y1="358.5" x2="375.1" y2="357" stroke="#bdbdbd" stroke-width="0.6"/>
<line x1="375.1" y1="234.4" x2="375.1" y2="235.9" stroke="#bdbdbd" stroke-width="0.6"/>
<line x1="401.3" y1="358.5" x2="401.3" y2="357" stroke="#bdbdbd" stroke-width="0.6"/>
<line x1="401.3" y1="234.4" x2="401.3" y2="235.9" stroke="#bdbdbd" stroke-width="0.6"/>
<line x1="427.5" y1="358.5" x2="427.5" y2="357" stroke="#bdbdbd" stroke-width="0.6"/>
<line x1="427.5" y1="234.4" x2="427.5" y2="235.9" stroke="#bdbdbd" stroke-width="0.6"/>
<line x1="453.8" y1="358.5" x2="453.8" y2="357" stroke="#bdbdbd" stroke-width="0.6"/>
<line x1="453.8" y1="234.4" x2="453.8" y2="235.9" stroke="#bdbdbd" stroke-width="0.6"/>
<line x1="480" y1="358.5" x2="480" y2="357" stroke="#bdbdbd" stroke-width="0.6"/>
<line x1="480" y1="234.4" x2="480" y2="235.9" stroke="#bdbdbd" stroke-width="0.6"/>
<line x1="322.6" y1="358.5" x2="324.1" y2="358.5" stroke="#bdbdbd" stroke-width="0.6"/>
<line x1="480" y1="358.5" x2="478.5" y2="358.5" stroke="#bdbdbd" stroke-width="0.6"/>
<line x1="322.6" y1="333.7" x2="324.1" y2="333.7" stroke="#bdbdbd" stroke-width="0.6"/>
<line x1="480" y1="333.7" x2="478.5" y2="333.7" stroke="#bdbdbd" stroke-width="0.6"/>
<line x1="322.6" y1="308.9" x2="324.1" y2="308.9" stroke="#bdbdbd" stroke-width="0.6"/>
<line x1="480" y1="308.9" x2="478.5" y2="308.9" stroke="#bdbdbd" stroke-width="0.6"/>
<line x1="322.6" y1="284" x2="324.1" y2="284" stroke="#bdbdbd" stroke-width="0.6"/>
<line x1="480" y1="284" x2="478.5" y2="284" stroke="#bdbdbd" stroke-width="0.6"/>
<line x1="322.6" y1="259.2" x2="324.1" y2="259.2" stroke="#bdbdbd" stroke-width="0.6"/>
<line x1="480" y1="259.2" x2="478.5" y2="259.2" stroke="#bdbdbd" stroke-width="0.6"/>
<line x1="322.6" y1="234.4" x2="324.1" y2="234.4" stroke="#bdbdbd" stroke-width="0.6"/>
<line x1="480" y1="234.4" x2="478.5" y2="234.4" stroke="#bdbdbd" stroke-width="0.6"/>
<text x="322.6" y="369.6" font-size="8.1" text-anchor="middle" fill="#141414" color="#141414">0</text>
<text x="348.8" y="369.6" font-size="8.1" text-anchor="middle" fill="#141414" color="#141414">10</text>
<text x="375.1" y="369.6" font-size="8.1" text-anchor="middle" fill="#141414" color="#141414">20</text>
<text x="401.3" y="369.6" font-size="8.1" text-anchor="middle" fill="#141414" color="#141414">30</text>
<text x="427.5" y="369.6" font-size="8.1" text-anchor="middle" fill="#141414" color="#141414">40</text>
<text x="453.8" y="369.6" font-size="8.1" text-anchor="middle" fill="#141414" color="#141414">50</text>
<text x="480" y="369.6" font-size="8.1" text-anchor="middle" fill="#141414" color="#141414">60</text>
<text x="319" y="361.3" font-size="8.1" text-anchor="end" fill="#141414" color="#141414">0</text>
<text x="319" y="336.5" font-size="8.1" text-anchor="end" fill="#141414" color="#141414">50</text>
<text x="319" y="311.7" font-size="8.1" text-anchor="end" fill="#141414" color="#141414">100</text>
<text x="319" y="286.8" font-size="8.1" text-anchor="end" fill="#141414" color="#141414">150</text>
<text x="319" y="262" font-size="8.1" text-anchor="end" fill="#141414" color="#141414">200</text>
<text x="319" y="237.2" font-size="8.1" text-anchor="end" fill="#141414" color="#141414">250</text>
<text x="401.6" y="225.8" font-size="9.6" text-anchor="middle" fill="#141414" color="#141414">Genotyping only</text>
<text x="401.2" y="381.6" font-size="8.3" text-anchor="middle" fill="#141414" color="#141414">Number of minimum identifying variants</text>
<text x="301.2" y="300.5" font-size="8" text-anchor="middle" fill="#141414" color="#141414" transform="rotate(-90 301.2 300.5)">Frequency</text>
<rect x="524.6" y="344" width="13.5" height="14.3" fill="#00008f" stroke="#000068" stroke-width="0.4"/>
<rect x="538.1" y="317.1" width="13.7" height="41.2" fill="#00008f" stroke="#000068" stroke-width="0.4"/>
<rect x="551.8" y="253.8" width="14.1" height="104.5" fill="#00008f" stroke="#000068" stroke-width="0.4"/>
<rect x="565.9" y="253.8" width="13.6" height="104.5" fill="#00008f" stroke="#000068" stroke-width="0.4"/>
<rect x="579.5" y="244.3" width="13.7" height="114" fill="#00008f" stroke="#000068" stroke-width="0.4"/>
<rect x="593.2" y="272.8" width="13.6" height="85.5" fill="#00008f" stroke="#000068" stroke-width="0.4"/>
<rect x="606.8" y="320.3" width="13.6" height="38" fill="#00008f" stroke="#000068" stroke-width="0.4"/>
<rect x="620.4" y="325" width="13.9" height="33.3" fill="#00008f" stroke="#000068" stroke-width="0.4"/>
<rect x="634.3" y="347.2" width="13.9" height="11.1" fill="#00008f" stroke="#000068" stroke-width="0.4"/>
<rect x="648.2" y="353.5" width="13.8" height="4.8" fill="#00008f" stroke="#000068" stroke-width="0.4"/>
<line x1="518.4" y1="358.3" x2="680.6" y2="358.3" stroke="#bdbdbd" stroke-width="0.8"/>
<line x1="518.4" y1="231.6" x2="680.6" y2="231.6" stroke="#bdbdbd" stroke-width="0.8"/>
<line x1="518.4" y1="231.6" x2="518.4" y2="358.3" stroke="#bdbdbd" stroke-width="0.8"/>
<line x1="680.6" y1="231.6" x2="680.6" y2="358.3" stroke="#bdbdbd" stroke-width="0.8"/>
<line x1="518.4" y1="358.3" x2="518.4" y2="356.8" stroke="#bdbdbd" stroke-width="0.6"/>
<line x1="518.4" y1="231.6" x2="518.4" y2="233.1" stroke="#bdbdbd" stroke-width="0.6"/>
<line x1="559" y1="358.3" x2="559" y2="356.8" stroke="#bdbdbd" stroke-width="0.6"/>
<line x1="559" y1="231.6" x2="559" y2="233.1" stroke="#bdbdbd" stroke-width="0.6"/>
<line x1="599.5" y1="358.3" x2="599.5" y2="356.8" stroke="#bdbdbd" stroke-width="0.6"/>
<line x1="599.5" y1="231.6" x2="599.5" y2="233.1" stroke="#bdbdbd" stroke-width="0.6"/>
<line x1="640.1" y1="358.3" x2="640.1" y2="356.8" stroke="#bdbdbd" stroke-width="0.6"/>
<line x1="640.1" y1="231.6" x2="640.1" y2="233.1" stroke="#bdbdbd" stroke-width="0.6"/>
<line x1="680.6" y1="358.3" x2="680.6" y2="356.8" stroke="#bdbdbd" stroke-width="0.6"/>
<line x1="680.6" y1="231.6" x2="680.6" y2="233.1" stroke="#bdbdbd" stroke-width="0.6"/>
<line x1="518.4" y1="358.3" x2="519.9" y2="358.3" stroke="#bdbdbd" stroke-width="0.6"/>
<line x1="680.6" y1="358.3" x2="679.1" y2="358.3" stroke="#bdbdbd" stroke-width="0.6"/>
<line x1="518.4" y1="342.5" x2="519.9" y2="342.5" stroke="#bdbdbd" stroke-width="0.6"/>
<line x1="680.6" y1="342.5" x2="679.1" y2="342.5" stroke="#bdbdbd" stroke-width="0.6"/>
<line x1="518.4" y1="326.6" x2="519.9" y2="326.6" stroke="#bdbdbd" stroke-width="0.6"/>
<line x1="680.6" y1="326.6" x2="679.1" y2="326.6" stroke="#bdbdbd" stroke-width="0.6"/>
<line x1="518.4" y1="310.8" x2="519.9" y2="310.8" stroke="#bdbdbd" stroke-width="0.6"/>
<line x1="680.6" y1="310.8" x2="679.1" y2="310.8" stroke="#bdbdbd" stroke-width="0.6"/>
<line x1="518.4" y1="294.9" x2="519.9" y2="294.9" stroke="#bdbdbd" stroke-width="0.6"/>
<line x1="680.6" y1="294.9" x2="679.1" y2="294.9" stroke="#bdbdbd" stroke-width="0.6"/>
<line x1="518.4" y1="279.1" x2="519.9" y2="279.1" stroke="#bdbdbd" stroke-width="0.6"/>
<line x1="680.6" y1="279.1" x2="679.1" y2="279.1" stroke="#bdbdbd" stroke-width="0.6"/>
<line x1="518.4" y1="263.3" x2="519.9" y2="263.3" stroke="#bdbdbd" stroke-width="0.6"/>
<line x1="680.6" y1="263.3" x2="679.1" y2="263.3" stroke="#bdbdbd" stroke-width="0.6"/>
<line x1="518.4" y1="247.4" x2="519.9" y2="247.4" stroke="#bdbdbd" stroke-width="0.6"/>
<line x1="680.6" y1="247.4" x2="679.1" y2="247.4" stroke="#bdbdbd" stroke-width="0.6"/>
<line x1="518.4" y1="231.6" x2="519.9" y2="231.6" stroke="#bdbdbd" stroke-width="0.6"/>
<line x1="680.6" y1="231.6" x2="679.1" y2="231.6" stroke="#bdbdbd" stroke-width="0.6"/>
<text x="518.4" y="368.7" font-size="8.1" text-anchor="middle" fill="#141414" color="#141414">0</text>
<text x="559" y="368.7" font-size="8.1" text-anchor="middle" fill="#141414" color="#141414">20</text>
<text x="599.5" y="368.7" font-size="8.1" text-anchor="middle" fill="#141414" color="#141414">40</text>
<text x="640.1" y="368.7" font-size="8.1" text-anchor="middle" fill="#141414" color="#141414">60</text>
<text x="680.6" y="368.7" font-size="8.1" text-anchor="middle" fill="#141414" color="#141414">80</text>
<text x="514.8" y="361.1" font-size="8.1" text-anchor="end" fill="#141414" color="#141414">0</text>
<text x="514.8" y="345.3" font-size="8.1" text-anchor="end" fill="#141414" color="#141414">10</text>
<text x="514.8" y="329.4" font-size="8.1" text-anchor="end" fill="#141414" color="#141414">20</text>
<text x="514.8" y="313.6" font-size="8.1" text-anchor="end" fill="#141414" color="#141414">30</text>
<text x="514.8" y="297.8" font-size="8.1" text-anchor="end" fill="#141414" color="#141414">40</text>
<text x="514.8" y="281.9" font-size="8.1" text-anchor="end" fill="#141414" color="#141414">50</text>
<text x="514.8" y="266.1" font-size="8.1" text-anchor="end" fill="#141414" color="#141414">60</text>
<text x="514.8" y="250.2" font-size="8.1" text-anchor="end" fill="#141414" color="#141414">70</text>
<text x="514.8" y="234.4" font-size="8.1" text-anchor="end" fill="#141414" color="#141414">80</text>
<text x="601" y="226.2" font-size="9.6" text-anchor="middle" fill="#141414" color="#141414">Discovery + genotyping</text>
<text x="599.4" y="382.2" font-size="8.3" text-anchor="middle" fill="#141414" color="#141414">Number of minimum identifying variants</text>
<text x="499.2" y="296.5" font-size="8" text-anchor="middle" fill="#141414" color="#141414" transform="rotate(-90 499.2 296.5)">Frequency</text>
</svg></body></html>
